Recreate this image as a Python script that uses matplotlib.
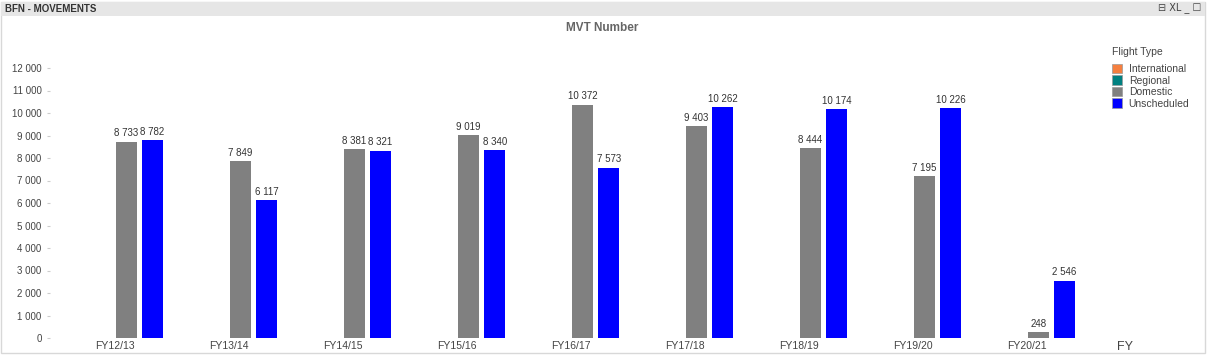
import matplotlib.pyplot as plt
import numpy as np
from matplotlib.patches import Patch, Rectangle

plt.rcParams['font.family'] = ['Liberation Sans', 'DejaVu Sans']

years = ['FY12/13', 'FY13/14', 'FY14/15', 'FY15/16', 'FY16/17',
         'FY17/18', 'FY18/19', 'FY19/20', 'FY20/21']
domestic = [8733, 7849, 8381, 9019, 10372, 9403, 8444, 7195, 248]
unscheduled = [8782, 6117, 8321, 8340, 7573, 10262, 10174, 10226, 2546]
flight_types = ['International', 'Regional', 'Domestic', 'Unscheduled']
type_colors = ['#F57F3F', '#008080', '#808080', '#0000FF']

W, H = 1207, 356
fig = plt.figure(figsize=(W / 100, H / 100), dpi=100)

def fx(px):
    return px / W

def fy(py):
    return 1 - py / H

# panel frame + caption bar
fig.add_artist(Rectangle((fx(1), fy(353)), fx(1204), 351 / H, transform=fig.transFigure,
                         facecolor='white', edgecolor='#D8D8D8', lw=1, zorder=-5))
fig.add_artist(Rectangle((fx(1), fy(16)), fx(1204), 14 / H, transform=fig.transFigure,
                         facecolor='#E6E6E6', edgecolor='none', zorder=-4))
fig.text(fx(5), fy(9), 'BFN - MOVEMENTS', fontsize=7, fontweight='bold', color='#333333', va='center')
fig.text(fx(1158), fy(8), '⊟ XL _ ☐', fontsize=7, color='#444444', va='center',
         family=['DejaVu Sans'])

ax = fig.add_axes([fx(50), fy(338), fx(1050), 270 / H])
ax.patch.set_alpha(0)
x = np.arange(len(years))
bw = 0.18
b1 = ax.bar(x + 0.10, domestic, bw, color=type_colors[2])
b2 = ax.bar(x + 0.33, unscheduled, bw, color=type_colors[3])

fmt = lambda v: f'{v:,}'.replace(',', ' ')
for bars, vals in [(b1, domestic), (b2, unscheduled)]:
    for b, v in zip(bars, vals):
        ax.text(b.get_x() + b.get_width() / 2, v + 150, fmt(v), ha='center', va='bottom',
                fontsize=7, color='#333333')

ax.set_xlim(-0.57, 8.64)
ax.set_ylim(0, 12000)
ax.set_yticks(np.arange(0, 12001, 1000))
ax.set_yticklabels([fmt(v) for v in range(0, 12001, 1000)])
ax.set_xticks(x)
ax.set_xticklabels(years)
ax.tick_params(axis='y', length=2, color='#CCCCCC', labelsize=7, labelcolor='#444444', pad=4)
ax.tick_params(axis='x', length=0, labelsize=7.5, labelcolor='#444444', pad=2)
for s in ax.spines.values():
    s.set_visible(False)

fig.text(fx(1125), fy(347), 'FY', fontsize=9, color='#444444', ha='center', va='center')
fig.text(fx(602), fy(28), 'MVT Number', fontsize=8.5, fontweight='bold', color='#666666',
         ha='center', va='center')

handles = [Patch(facecolor=c, edgecolor='#999999', lw=0.5) for c in type_colors]
leg = fig.legend(handles, flight_types, title='Flight Type', loc='upper left',
                 bbox_to_anchor=(fx(1112), fy(47)), frameon=False, fontsize=7.5,
                 title_fontsize=7.5, handlelength=1.0, handleheight=1.0,
                 labelspacing=0.12, handletextpad=0.6, borderaxespad=0, borderpad=0)
leg._legend_box.align = 'left'
leg._legend_box.sep = 5
for t in leg.get_texts():
    t.set_color('#444444')
leg.get_title().set_color('#444444')

fig.savefig('out.png', dpi=100)
